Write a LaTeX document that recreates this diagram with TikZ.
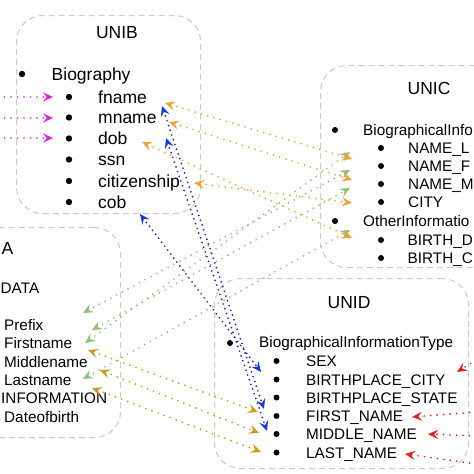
\documentclass[tikz,border=0pt]{standalone}
\usepackage{fontspec}
\setmainfont{Liberation Sans}
\usetikzlibrary{arrows.meta,calc}
\definecolor{cMag}{HTML}{E020E0}
\definecolor{cOra}{HTML}{EDA236}
\definecolor{cGrn}{HTML}{8DC07C}
\definecolor{cBlu}{HTML}{1E1EA8}
\definecolor{cBluT}{HTML}{1638E0}
\definecolor{cGld}{HTML}{C99A1C}
\definecolor{cRed}{HTML}{E0241E}
\definecolor{cBox}{HTML}{CCCCCC}
\tikzset{
  box/.style={draw=cBox, line width=1.1pt, dash pattern=on 6pt off 4pt, rounded corners=26pt, inner sep=0pt, anchor=north west},
  ttl/.style={font=\fontsize{17.5}{20}\selectfont, inner sep=0pt, anchor=base},
  itB/.style={font=\fontsize{17.5}{20}\selectfont, inner sep=0pt, anchor=base west},
  it/.style={font=\fontsize{15.3}{18}\selectfont, inner sep=0pt, anchor=base west},
  itE/.style={font=\fontsize{15.3}{18}\selectfont, inner sep=0pt, anchor=base east},
  bul/.style={circle, fill=black, inner sep=0pt, minimum size=6.4pt},
  buls/.style={circle, fill=black, inner sep=0pt, minimum size=6pt},
  dots/.style={line width=1.9pt, line cap=round, dash pattern=on 0pt off 6.5pt},
  one/.style={-{Stealth[length=10pt,width=9pt,inset=3.8pt]}},
  two/.style={{Stealth[length=10pt,width=9pt,inset=3.8pt]}-{Stealth[length=10pt,width=9pt,inset=3.8pt]}},
  mag/.style={dots, draw=cMag, one},
  ora/.style={dots, draw=cOra, two},
  grn/.style={dots, draw=cGrn, two},
  blu/.style={dots, draw=cBlu, dash pattern=on 0pt off 5pt, {Stealth[length=10pt,width=9pt,inset=3.8pt,color=cBluT]}-{Stealth[length=10pt,width=9pt,inset=3.8pt,color=cBluT]}},
  gld/.style={dots, draw=cGld, two},
  red/.style={dots, draw=cRed, one},
}
\begin{document}
\begin{tikzpicture}[x=1pt,y=-1pt]
\useasboundingbox (0,0) rectangle (474,474);
\clip (0,0) rectangle (474,474);
\fill[white] (0,0) rectangle (474,474);

% boxes
\node[box, minimum width=184pt, minimum height=198pt] (boxB) at (16,15) {};
\node[box, minimum width=200pt, minimum height=202pt] (boxC) at (320,65) {};
\node[box, minimum width=260pt, minimum height=210pt] (boxA) at (-140,227) {};
\node[box, minimum width=254pt, minimum height=190pt] (boxD) at (214,278) {};

% UNIB
\node[ttl] (tB) at (117,38.3) {UNIB};
\node[bul] (bBio) at (22,74) {};
\node[itB] (tBio) at (51.5,80.3) {Biography};
\node[bul] (bfn) at (69,97) {};
\node[bul] (bmn) at (69,117.5) {};
\node[bul] (bdob) at (69,138.5) {};
\node[bul] (bssn) at (69,159.5) {};
\node[bul] (bcit) at (69,181) {};
\node[bul] (bcob) at (69,202) {};
\node[itB] (tfn) at (98,103.3) {fname};
\node[itB] (tmn) at (98,123.8) {mname};
\node[itB] (tdob) at (98,144.8) {dob};
\node[itB] (tssn) at (98,165.8) {ssn};
\node[itB] (tcit) at (98,187.3) {citizenship};
\node[itB] (tcob) at (98,208.3) {cob};

% UNIC
\node[ttl] (tC) at (429,94.6) {UNIC};
\node[buls] (cB1) at (335,130) {};
\node[it] (cT1) at (363,135.5) {BiographicalInfo};
\node[buls] (cbl) at (381,148) {};
\node[buls] (cbf) at (381,166) {};
\node[buls] (cbm) at (381,184) {};
\node[buls] (cbc) at (381,202) {};
\node[it] (ctl) at (408,153.5) {NAME\_L};
\node[it] (ctf) at (408,171.5) {NAME\_F};
\node[it] (ctm) at (408,189.5) {NAME\_M};
\node[it] (ctc) at (408,207.5) {CITY};
\node[buls] (cB2) at (335,221) {};
\node[it] (cT2) at (363,226.5) {OtherInformatio};
\node[buls] (cbd) at (381,240) {};
\node[buls] (cbb) at (381,258) {};
\node[it] (ctd) at (407.5,245.5) {BIRTH\_D};
\node[it] (ctb) at (407.5,263.5) {BIRTH\_C};

% A
\node[itB] (tA) at (1.5,254.3) {A};
\node[it] (aDATA) at (0.5,293.5) {DATA};
\node[it] (aPre) at (4,330.5) {Prefix};
\node[it] (aFir) at (4,348.5) {Firstname};
\node[it] (aMid) at (4,367) {Middlename};
\node[it] (aLas) at (4,385.5) {Lastname};
\node[it] (aInf) at (1,403.5) {INFORMATION};
\node[it] (aDob) at (4,422) {Dateofbirth};

% UNID
\node[ttl] (tD) at (349,308.3) {UNID};
\node[buls] (dB) at (230,343) {};
\node[it] (dT) at (259,347.5) {BiographicalInformationType};
\node[buls] (db1) at (276.5,361) {};
\node[buls] (db2) at (276.5,379.5) {};
\node[buls] (db3) at (276.5,397.5) {};
\node[buls] (db4) at (276.5,416) {};
\node[buls] (db5) at (276.5,434) {};
\node[buls] (db6) at (276.5,452.5) {};
\node[it] (dsex) at (306,366.5) {SEX};
\node[it] (dbc) at (306,385) {BIRTHPLACE\_CITY};
\node[it] (dbs) at (306,403) {BIRTHPLACE\_STATE};
\node[it] (dfn) at (306,421.5) {FIRST\_NAME};
\node[it] (dmn) at (306,439.5) {MIDDLE\_NAME};
\node[it] (dln) at (306,458) {LAST\_NAME};

% connector end points
\coordinate (m1) at (-2,97);   \coordinate (m1e) at (53,97);
\coordinate (m2) at (-2,118);  \coordinate (m2e) at (53,118);
\coordinate (m3) at (-2,138);  \coordinate (m3e) at (53,138);

\coordinate (oB1) at (165,103); \coordinate (oC1) at (352,159);
\coordinate (oB2) at (169,122); \coordinate (oC2) at (352,180);
\coordinate (oB3) at (142,142); \coordinate (oC3) at (352,238);
\coordinate (oB4) at (194,183); \coordinate (oC4) at (352,203);

\coordinate (gA1) at (83,313); \coordinate (gC1) at (350,170);
\coordinate (gA2) at (92,330); \coordinate (gC2) at (350,188);
\coordinate (gA3) at (85,343); \coordinate (gC3) at (350,152);
\coordinate (gA4) at (83,379); \coordinate (gC4) at (350,230);

\coordinate (uB1) at (162,106); \coordinate (uD1) at (264,409);
\coordinate (uB2) at (166,138); \coordinate (uD2) at (267,431);
\coordinate (uB3) at (140,214); \coordinate (uD3) at (261,372);

\coordinate (yA1) at (88,350);  \coordinate (yD1) at (258,412);
\coordinate (yA2) at (100,370); \coordinate (yD2) at (259,433);
\coordinate (yA3) at (92,388);  \coordinate (yD3) at (261,452);

\coordinate (r1) at (476,360); \coordinate (r1e) at (457,372);
\coordinate (r2) at (476,412); \coordinate (r2e) at (412,417);
\coordinate (r3) at (476,436); \coordinate (r3e) at (428,434);
\coordinate (r4) at (476,464); \coordinate (r4e) at (405,454);

% connectors
\draw[mag] (m1) -- (m1e);
\draw[mag] (m2) -- (m2e);
\draw[mag] (m3) -- (m3e);

\draw[grn] (gA1) -- (gC1);
\draw[grn] (gA2) -- (gC2);
\draw[grn] (gA3) -- (gC3);
\draw[grn] (gA4) -- (gC4);

\draw[ora] (oB1) -- (oC1);
\draw[ora] (oB2) -- (oC2);
\draw[ora] (oB3) -- (oC3);
\draw[ora] (oB4) -- (oC4);

\draw[gld] (yA1) -- (yD1);
\draw[gld] (yA2) -- (yD2);
\draw[gld] (yA3) -- (yD3);

\draw[blu] (uB1) -- (uD1);
\draw[blu] (uB2) -- (uD2);
\draw[blu] (uB3) -- (uD3);

\draw[red] (r1) -- (r1e);
\draw[red] (r2) -- (r2e);
\draw[red] (r3) -- (r3e);
\draw[red] (r4) -- (r4e);
\end{tikzpicture}
\end{document}
